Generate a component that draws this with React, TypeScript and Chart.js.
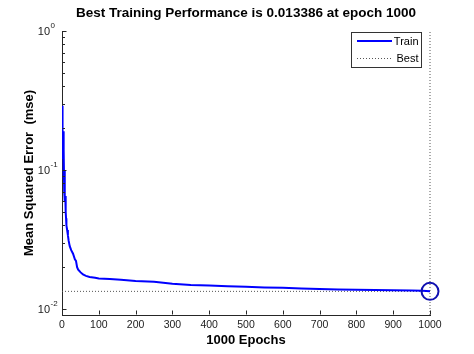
import React, { useEffect, useRef } from 'react';
import { Chart, registerables } from 'chart.js';

Chart.register(...registerables);

// ---- data ----
const epochs = [0, 1, 2, 3, 4, 5, 6, 7, 8, 9, 10, 11, 12, 14, 16, 18, 21, 25, 30, 35, 38, 41, 44, 50, 57, 65, 75, 90, 100, 130, 160, 200, 250, 300, 350, 400, 450, 500, 550, 600, 650, 700, 750, 800, 850, 900, 950, 980, 1000];
const trainMse = [0.29, 0.21, 0.12, 0.19, 0.085, 0.14, 0.07, 0.1, 0.06, 0.065, 0.05, 0.045, 0.04, 0.037, 0.034, 0.031, 0.0283, 0.0265, 0.025, 0.0228, 0.0222, 0.02, 0.0192, 0.0184, 0.0177, 0.0173, 0.017, 0.0168, 0.0166, 0.0164, 0.0162, 0.0159, 0.0157, 0.0152, 0.0149, 0.01475, 0.0146, 0.01445, 0.0143, 0.0142, 0.01405, 0.0139, 0.01382, 0.01375, 0.01368, 0.01362, 0.01358, 0.0135, 0.013386];
const bestEpoch = 1000;
const bestMse = 0.013386;
const xTickValues = [0, 100, 200, 300, 400, 500, 600, 700, 800, 900, 1000];
const xTickLabels = ['0', '100', '200', '300', '400', '500', '600', '700', '800', '900', '1000'];
const yTickValues = [0.01, 0.1, 1];
const yTickExponents = ['-2', '-1', '0'];
const yMin = 0.00905;
const yMax = 1;
const titleText = 'Best Training Performance is 0.013386 at epoch 1000';
const xTitle = '1000 Epochs';
const yTitle = 'Mean Squared Error  (mse)';
const legendLabels = ['Train', 'Best'];

const FONT = "'Liberation Sans', Arial, sans-serif";
const BLUE = '#0000ff';
const DOT = '#555555';
const AXIS = '#262626';

const decor = {
  id: 'decor',
  afterDatasetsDraw(chart: any) {
    const { ctx, chartArea, scales } = chart;
    const x = scales.x;
    const y = scales.y;
    ctx.save();
    ctx.strokeStyle = AXIS;
    ctx.lineWidth = 1;
    ctx.setLineDash([]);
    const left = Math.round(chartArea.left) + 0.5;
    const bottom = Math.round(chartArea.bottom) - 0.5;
    // y ticks (major & minor, inward)
    for (let d = -3; d <= 0; d++) {
      for (let m = 1; m <= 9; m++) {
        const v = m * Math.pow(10, d);
        if (v < yMin || v > yMax * 1.0001) continue;
        const py = Math.round(y.getPixelForValue(v)) + 0.5;
        const len = m === 1 ? 4 : 2.5;
        ctx.beginPath();
        ctx.moveTo(left, py);
        ctx.lineTo(left + len, py);
        ctx.stroke();
      }
    }
    // x ticks
    xTickValues.forEach((t) => {
      const px = Math.round(x.getPixelForValue(t)) + 0.5;
      ctx.beginPath();
      ctx.moveTo(px, bottom);
      ctx.lineTo(px, bottom - 4);
      ctx.stroke();
    });
    // y tick labels with superscript exponents
    ctx.fillStyle = '#1a1a1a';
    yTickValues.forEach((v, i) => {
      const py = y.getPixelForValue(v);
      ctx.font = `11px ${FONT}`;
      ctx.textAlign = 'right';
      ctx.textBaseline = 'middle';
      ctx.fillText('10', chartArea.left - 12, py + 1);
      ctx.font = `8px ${FONT}`;
      ctx.textAlign = 'left';
      ctx.fillText(yTickExponents[i], chartArea.left - 11.5, py - 5);
    });
    // legend
    const lx = chartArea.right - 78.5;
    const ly = chartArea.top + 1.5;
    ctx.fillStyle = '#ffffff';
    ctx.fillRect(lx, ly, 70, 35);
    ctx.strokeStyle = '#333333';
    ctx.strokeRect(lx, ly, 70, 35);
    ctx.strokeStyle = BLUE;
    ctx.lineWidth = 2;
    ctx.beginPath();
    ctx.moveTo(lx + 5.5, ly + 8.5);
    ctx.lineTo(lx + 40.5, ly + 8.5);
    ctx.stroke();
    ctx.strokeStyle = DOT;
    ctx.lineWidth = 1;
    ctx.setLineDash([1, 2]);
    ctx.beginPath();
    ctx.moveTo(lx + 5.5, ly + 26);
    ctx.lineTo(lx + 40.5, ly + 26);
    ctx.stroke();
    ctx.setLineDash([]);
    ctx.fillStyle = '#000000';
    ctx.font = `11px ${FONT}`;
    ctx.textAlign = 'right';
    ctx.textBaseline = 'middle';
    ctx.fillText(legendLabels[0], lx + 67, ly + 9);
    ctx.fillText(legendLabels[1], lx + 67, ly + 26);
    ctx.restore();
  },
};

export default function App() {
  const ref = useRef<HTMLCanvasElement | null>(null);
  useEffect(() => {
    document.body.style.margin = '0';
    const canvas = ref.current;
    if (!canvas) return;
    const chart = new Chart(canvas, {
      type: 'line',
      data: {
        datasets: [
          {
            label: legendLabels[0],
            data: epochs.map((e, i) => ({ x: e, y: trainMse[i] })),
            borderColor: BLUE,
            borderWidth: 2,
            pointRadius: 0,
            tension: 0,
            order: 1,
          },
          {
            label: legendLabels[1],
            data: [{ x: 0, y: bestMse }, { x: bestEpoch, y: bestMse }],
            borderColor: DOT,
            borderWidth: 1,
            borderDash: [1, 2],
            pointRadius: 0,
            order: 2,
          },
          {
            label: 'bestV',
            data: [{ x: bestEpoch, y: yMin }, { x: bestEpoch, y: yMax }],
            borderColor: DOT,
            borderWidth: 1,
            borderDash: [1, 2],
            pointRadius: 0,
            clip: false as any,
            order: 2,
          },
          {
            label: 'bestPoint',
            data: [{ x: bestEpoch, y: bestMse }],
            showLine: false,
            pointRadius: 8.5,
            pointBorderWidth: 2,
            pointBorderColor: '#1010b0',
            pointBackgroundColor: 'rgba(0,0,0,0)',
            borderColor: '#1010b0',
            clip: false as any,
            order: 0,
          },
        ],
      },
      options: {
        animation: false,
        responsive: false,
        maintainAspectRatio: false,
        layout: { padding: { left: 18, right: 44, top: 0, bottom: 2 } },
        plugins: {
          legend: { display: false },
          tooltip: { enabled: false },
          title: {
            display: true,
            text: titleText,
            fullSize: false,
            color: '#000',
            font: { family: FONT, size: 13.5, weight: 'bold' },
            padding: { top: 5, bottom: 9.8 },
          },
        },
        scales: {
          x: {
            type: 'linear',
            min: 0,
            max: 1000,
            afterBuildTicks: (s: any) => {
              s.ticks = xTickValues.map((v) => ({ value: v }));
            },
            afterFit: (s: any) => {
              s.height = 37;
            },
            ticks: {
              autoSkip: false,
              maxRotation: 0,
              padding: 4,
              color: '#222',
              font: { family: FONT, size: 10.5 },
              callback: (_v: any, i: number) => xTickLabels[i],
            },
            grid: { drawOnChartArea: false, drawTicks: false },
            border: { display: true, color: AXIS, width: 1 },
            title: {
              display: true,
              text: xTitle,
              color: '#000',
              font: { family: FONT, size: 13, weight: 'bold' },
              padding: { top: 4, bottom: 4 },
            },
          },
          y: {
            type: 'logarithmic',
            min: yMin,
            max: yMax,
            afterBuildTicks: (s: any) => {
              s.ticks = yTickValues.map((v) => ({ value: v }));
            },
            afterFit: (s: any) => {
              s.width = 44;
            },
            ticks: { display: false },
            grid: { drawOnChartArea: false, drawTicks: false },
            border: { display: true, color: AXIS, width: 1 },
            title: {
              display: true,
              text: yTitle,
              color: '#000',
              font: { family: FONT, size: 13, weight: 'bold' },
              padding: { top: 4, bottom: 4 },
            },
          },
        },
      },
      plugins: [decor],
    } as any);
    return () => chart.destroy();
  }, []);
  return (
    <div style={{ position: 'absolute', left: 0, top: 0, width: 474, height: 354, background: '#fff' }}>
      <canvas ref={ref} width={474} height={354} style={{ display: 'block', width: 474, height: 354 }} />
    </div>
  );
}
